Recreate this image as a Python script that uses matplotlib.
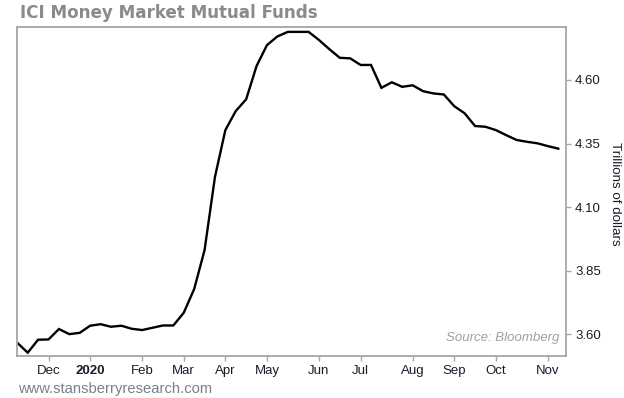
import matplotlib
matplotlib.use("Agg")
import matplotlib.pyplot as plt
import pandas as pd

# ---- data (weekly, Fridays) ----
start_date = "2019-11-15"
values = [3.567, 3.528, 3.579, 3.580, 3.621, 3.601, 3.606, 3.634, 3.640, 3.630,
          3.634, 3.622, 3.617, 3.626, 3.635, 3.635, 3.685, 3.778, 3.931, 4.219,
          4.403, 4.478, 4.524, 4.655, 4.737, 4.771, 4.789, 4.789, 4.789, 4.757,
          4.721, 4.687, 4.685, 4.659, 4.659, 4.569, 4.591, 4.573, 4.579, 4.556,
          4.547, 4.543, 4.497, 4.469, 4.419, 4.416, 4.403, 4.383, 4.364, 4.357,
          4.351, 4.340, 4.330]
dates = pd.date_range(start_date, periods=len(values), freq="7D")

tick_dates = ["2019-12-06", "2020-01-03", "2020-02-07", "2020-03-06", "2020-04-03",
              "2020-05-01", "2020-06-05", "2020-07-03", "2020-08-07", "2020-09-04",
              "2020-10-02", "2020-11-06"]
tick_labels = ["Dec", "2020", "Feb", "Mar", "Apr", "May", "Jun", "Jul", "Aug",
               "Sep", "Oct", "Nov"]
y_ticks = [3.60, 3.85, 4.10, 4.35, 4.60]

title = "ICI Money Market Mutual Funds"
y_label = "Trillions of dollars"
source = "Source: Bloomberg"
site = "www.stansberryresearch.com"

# ---- figure ----
W, H = 624, 398
fig = plt.figure(figsize=(W / 100, H / 100), dpi=100)
fig.patch.set_facecolor("white")
L, R, T, B = 17.3, 566, 27.3, 356
ax = fig.add_axes([L / W, 1 - B / H, (R - L) / W, (B - T) / H])

ax.plot(dates, values, color="black", lw=1.7, solid_joinstyle="miter")

ax.set_ylim(3.515, 4.807)
ax.set_xlim(pd.Timestamp("2019-11-15"), pd.Timestamp("2020-11-18 05:00"))

spine_c = "#a6a6a6"
for s in ax.spines.values():
    s.set_color(spine_c)
    s.set_linewidth(1.3)

font = "Liberation Sans"
ax.yaxis.tick_right()
ax.set_yticks(y_ticks)
ax.set_yticklabels([f"{v:.2f}" for v in y_ticks], fontsize=9.5, family=font,
                   color="#1a1a2a")
ax.tick_params(axis="y", direction="out", length=3.5, width=1, color=spine_c, pad=3)

ax.set_xticks([pd.Timestamp(d) for d in tick_dates])
ax.set_xticklabels(tick_labels, fontsize=9.5, family=font, color="#1a1a2a")
for lbl in ax.get_xticklabels():
    if lbl.get_text() == "2020":
        lbl.set_fontweight("bold")
ax.tick_params(axis="x", direction="out", length=3.5, width=1, color=spine_c, pad=3)

ax.text(0.988, 0.035, source, transform=ax.transAxes, ha="right", va="bottom",
        fontsize=9.5, family=font, style="italic", color="#a0a0a0")

fig.text(615 / W, 1 - 194 / H, y_label, rotation=-90, ha="center", va="center",
         fontsize=9.6, family=font, color="#1a1a2a")

fig.text(20 / W, 1 - 18.5 / H, title, ha="left", va="baseline",
         fontsize=12.1, family="DejaVu Sans", fontweight="bold", color="#8a8a8a")

fig.text(18 / W, 1 - 393 / H, site, ha="left", va="baseline",
         fontsize=10.6, family=font, color="#7a7f88")

fig.savefig("out.png", dpi=100, facecolor="white")
